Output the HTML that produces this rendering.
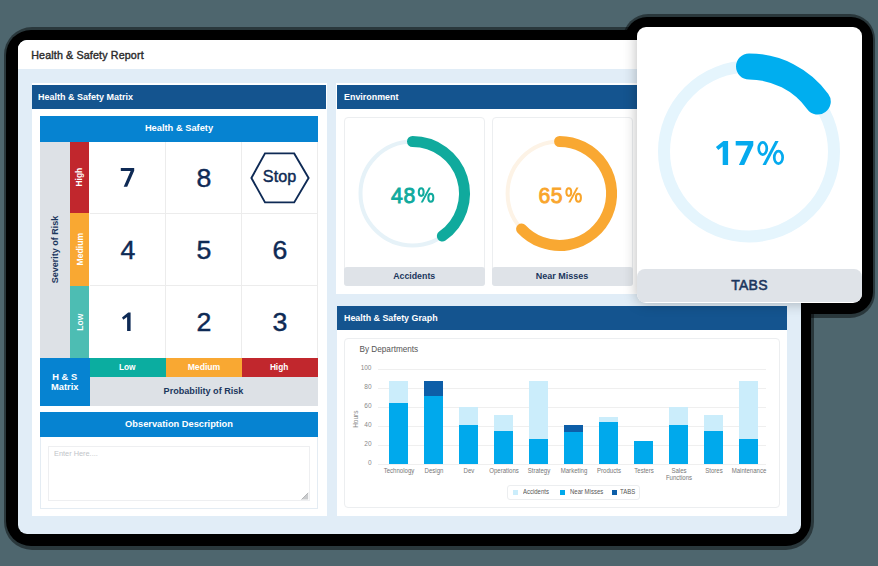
<!DOCTYPE html>
<html><head><meta charset="utf-8">
<style>
*{margin:0;padding:0;box-sizing:border-box}
html,body{width:878px;height:566px;overflow:hidden;background:#4e666e;font-family:"Liberation Sans",sans-serif}
.a{position:absolute}
.t{position:absolute;white-space:nowrap;line-height:1}
</style></head><body>
<div class="a" style="left:4px;top:27px;width:810px;height:523px;background:rgba(0,0,0,0.45);border-radius:28px"></div>
<div class="a" style="left:623px;top:14px;width:252px;height:304px;background:rgba(0,0,0,0.45);border-radius:25px"></div>
<div class="a" style="left:6px;top:30px;width:805px;height:516px;background:#000;border-radius:25px"></div>
<div class="a" style="left:625px;top:17px;width:248px;height:297px;background:#000;border-radius:22px"></div>
<div class="a" style="left:18px;top:40px;width:783px;height:493.5px;background:#e1edf7;border-radius:9px;overflow:hidden"><div class="a" style="left:0;top:0;width:783px;height:28.7px;background:#fff"></div></div>
<div class="t" style="left:31.20px;top:49.80px;font-size:10.7px;color:#2b2b2b;font-weight:normal;text-align:left;letter-spacing:0.15px;-webkit-text-stroke:0.4px #2b2b2b;">Health &amp; Safety Report</div>
<div class="a" style="left:31.5px;top:82.8px;width:295.3px;height:433.2px;background:#fff;"></div>
<div class="a" style="left:31.5px;top:85px;width:294.5px;height:23.8px;background:#14548f;"></div>
<div class="t" style="left:38.00px;top:92.80px;font-size:9.2px;color:#fff;font-weight:bold;text-align:left;transform:scaleX(0.98);transform-origin:left top;">Health &amp; Safety Matrix</div>
<div class="a" style="left:335.7px;top:82.8px;width:451.8px;height:211.6px;background:#fff;"></div>
<div class="a" style="left:337px;top:85px;width:450px;height:23.8px;background:#14548f;"></div>
<div class="t" style="left:344.40px;top:92.90px;font-size:9.2px;color:#fff;font-weight:bold;text-align:left;transform:scaleX(0.97);transform-origin:left top;">Environment</div>
<div class="a" style="left:337px;top:306.1px;width:450px;height:209.9px;background:#fff;"></div>
<div class="a" style="left:337px;top:306.1px;width:450px;height:23.6px;background:#14548f;"></div>
<div class="t" style="left:344.30px;top:313.70px;font-size:9.2px;color:#fff;font-weight:bold;text-align:left;transform:scaleX(0.965);transform-origin:left top;">Health &amp; Safety Graph</div>
<div class="a" style="left:40px;top:116px;width:278px;height:25.5px;background:#0683d1;"></div>
<div class="t" style="left:29.00px;top:123.69px;font-size:9.3px;color:#fff;font-weight:bold;text-align:center;width:300px;">Health &amp; Safety</div>
<div class="a" style="left:40px;top:141.5px;width:29.5px;height:216.5px;background:#dde1e6;"></div>
<div class="t" style="left:-45.10px;top:245.10px;width:200px;font-size:9px;color:#1b365d;font-weight:bold;text-align:center;transform:rotate(-90deg) scaleX(1.0);transform-origin:100px 4.40px;">Severity of Risk</div>
<div class="a" style="left:69.5px;top:141.5px;width:19.5px;height:71.8px;background:#c1272d;"></div>
<div class="a" style="left:69.5px;top:213.3px;width:19.5px;height:72.3px;background:#f9a832;"></div>
<div class="a" style="left:69.5px;top:285.6px;width:19.5px;height:72.4px;background:#4dbdb3;"></div>
<div class="t" style="left:-20.90px;top:173.35px;width:200px;font-size:8.5px;color:#fff;font-weight:bold;text-align:center;transform:rotate(-90deg) scaleX(1.0);transform-origin:100px 4.15px;">High</div>
<div class="t" style="left:-20.50px;top:245.40px;width:200px;font-size:8.6px;color:#fff;font-weight:bold;text-align:center;transform:rotate(-90deg) scaleX(1.0);transform-origin:100px 4.20px;">Medium</div>
<div class="t" style="left:-20.50px;top:317.85px;width:200px;font-size:8.5px;color:#fff;font-weight:bold;text-align:center;transform:rotate(-90deg) scaleX(1.0);transform-origin:100px 4.15px;">Low</div>
<div class="a" style="left:89.5px;top:141.5px;width:228px;height:216.5px;background:#fff;"></div>
<div class="a" style="left:165px;top:141.5px;width:1px;height:216.5px;background:#ececec;"></div>
<div class="a" style="left:241px;top:141.5px;width:1px;height:216.5px;background:#ececec;"></div>
<div class="a" style="left:317px;top:141.5px;width:1px;height:216.5px;background:#ececec;"></div>
<div class="a" style="left:89.5px;top:213px;width:228px;height:1px;background:#ececec;"></div>
<div class="a" style="left:89.5px;top:285px;width:228px;height:1px;background:#ececec;"></div>
<svg class="a" style="left:0;top:0" width="878" height="566"><g fill="#0e2a55"><path d="M128.2,312.6 L130.6,312.6 L130.6,331 L127.1,331 L127.1,316.9 L123.3,319.7 L122.0,317.4 Z"/><path d="M120.8,168.1 L134.2,168.1 L134.2,170.8 L127.2,186.7 L123.7,186.7 L130.6,171.0 L120.8,171.0 Z"/></g></svg>
<div class="t" style="left:53.80px;top:164.52px;font-size:26.7px;color:#0e2a55;font-weight:normal;text-align:center;width:300px;-webkit-text-stroke:0.45px #0e2a55;">8</div>
<div class="t" style="left:-22.20px;top:236.82px;font-size:26.7px;color:#0e2a55;font-weight:normal;text-align:center;width:300px;-webkit-text-stroke:0.45px #0e2a55;">4</div>
<div class="t" style="left:53.80px;top:236.82px;font-size:26.7px;color:#0e2a55;font-weight:normal;text-align:center;width:300px;-webkit-text-stroke:0.45px #0e2a55;">5</div>
<div class="t" style="left:129.80px;top:236.82px;font-size:26.7px;color:#0e2a55;font-weight:normal;text-align:center;width:300px;-webkit-text-stroke:0.45px #0e2a55;">6</div>
<div class="t" style="left:53.80px;top:309.02px;font-size:26.7px;color:#0e2a55;font-weight:normal;text-align:center;width:300px;-webkit-text-stroke:0.45px #0e2a55;">2</div>
<div class="t" style="left:129.80px;top:309.02px;font-size:26.7px;color:#0e2a55;font-weight:normal;text-align:center;width:300px;-webkit-text-stroke:0.45px #0e2a55;">3</div>
<svg class="a" style="left:241.5px;top:141.5px" width="76" height="72" viewBox="0 0 76 72"><polygon points="9.4,36 23,11.4 52.2,11.4 66.6,36 52.2,60.4 23,60.4" fill="none" stroke="#0e2a55" stroke-width="1.9" stroke-linejoin="miter"/></svg>
<div class="t" style="left:129.50px;top:167.89px;font-size:16.2px;color:#0e2a55;font-weight:normal;text-align:center;width:300px;-webkit-text-stroke:0.45px #0e2a55;">Stop</div>
<div class="a" style="left:40px;top:358px;width:49.5px;height:47.5px;background:#0683d1;"></div>
<div class="t" style="left:-85.30px;top:372.99px;font-size:9.3px;color:#fff;font-weight:bold;text-align:center;width:300px;">H &amp; S</div>
<div class="t" style="left:-85.30px;top:382.99px;font-size:9.3px;color:#fff;font-weight:bold;text-align:center;width:300px;">Matrix</div>
<div class="a" style="left:89.5px;top:358px;width:76px;height:19px;background:#0bada0;"></div>
<div class="a" style="left:165.5px;top:358px;width:76px;height:19px;background:#f9a832;"></div>
<div class="a" style="left:241.5px;top:358px;width:76px;height:19px;background:#c1272d;"></div>
<div class="t" style="left:-22.80px;top:363.02px;font-size:8.3px;color:#fff;font-weight:bold;text-align:center;width:300px;">Low</div>
<div class="t" style="left:53.80px;top:363.02px;font-size:8.3px;color:#fff;font-weight:bold;text-align:center;width:300px;transform:scaleX(1.04);transform-origin:center top;">Medium</div>
<div class="t" style="left:129.10px;top:363.02px;font-size:8.3px;color:#fff;font-weight:bold;text-align:center;width:300px;">High</div>
<div class="a" style="left:89.5px;top:377px;width:228px;height:28.5px;background:#dde1e6;"></div>
<div class="t" style="left:53.50px;top:386.71px;font-size:9.1px;color:#1b365d;font-weight:bold;text-align:center;width:300px;">Probability of Risk</div>
<div class="a" style="left:40px;top:412.3px;width:278px;height:25px;background:#0683d1;"></div>
<div class="t" style="left:28.60px;top:419.50px;font-size:9.2px;color:#fff;font-weight:bold;text-align:center;width:300px;transform:scaleX(1.01);transform-origin:center top;">Observation Description</div>
<div class="a" style="left:40px;top:437px;width:278px;height:72px;background:transparent;border:1px solid #e4ecf3;border-top:none"></div>
<div class="a" style="left:48.3px;top:445.7px;width:261.7px;height:55.3px;background:#fff;border:1px solid #eeeff1"></div>
<div class="t" style="left:54.00px;top:449.61px;font-size:7.6px;color:#c0c4c8;font-weight:normal;text-align:left;transform:scaleX(0.97);transform-origin:left top;">Enter Here....</div>
<svg class="a" style="left:300px;top:492px" width="9" height="9" viewBox="0 0 9 9"><path d="M8.2,0.8 L8.2,7.5 L1.5,7.5 Z" fill="#c9cbcd"/><path d="M8.2,0.8 L1.5,7.5" stroke="#a9abad" stroke-width="0.8"/></svg>
<div class="a" style="left:344px;top:116.7px;width:141px;height:169.5px;background:#fff;border:1px solid #eceef0;border-radius:4px"></div>
<div class="a" style="left:344px;top:266.7px;width:141px;height:19.3px;background:#dfe3e8;border-radius:3px"></div>
<div class="t" style="left:264.20px;top:271.95px;font-size:8.8px;color:#1b365d;font-weight:bold;text-align:center;width:300px;">Accidents</div>
<div class="a" style="left:491.7px;top:116.7px;width:141px;height:169.5px;background:#fff;border:1px solid #eceef0;border-radius:4px"></div>
<div class="a" style="left:491.7px;top:266.7px;width:141px;height:19.3px;background:#dfe3e8;border-radius:3px"></div>
<div class="t" style="left:411.60px;top:271.95px;font-size:8.8px;color:#1b365d;font-weight:bold;text-align:center;width:300px;transform:scaleX(1.02);transform-origin:center top;">Near Misses</div>
<svg class="a" style="left:0;top:0" width="878" height="566">
<circle cx="412.5" cy="193.5" r="52" fill="none" stroke="#e6f2f8" stroke-width="4"/>
<path d="M412.50,141.50 A52,52 0 0 1 442.33,236.10" fill="none" stroke="#10aa9d" stroke-width="11" stroke-linecap="round"/>
<circle cx="559.6" cy="193.5" r="52" fill="none" stroke="#fdf3e6" stroke-width="4"/>
<path d="M559.60,141.50 A52,52 0 1 1 521.57,228.96" fill="none" stroke="#f9a832" stroke-width="11" stroke-linecap="round"/>
</svg>
<div class="t" style="left:391.00px;top:184.73px;font-size:21.2px;color:#10aa9d;font-weight:normal;text-align:left;letter-spacing:0.6px;-webkit-text-stroke:0.85px #10aa9d;">48</div>
<div class="t" style="left:538.40px;top:184.73px;font-size:21.2px;color:#f9a52b;font-weight:normal;text-align:left;letter-spacing:0.6px;-webkit-text-stroke:0.85px #f9a52b;">65</div>
<svg class="a" style="left:0;top:0" width="878" height="566"><g transform="translate(417.5,187.4) scale(0.632) translate(-757.4,-141.1)" fill="#10aa9d" stroke="#10aa9d"><path d="M775.2,141.1 L778.6,141.1 L765.9,165 L762.5,165 Z" stroke="none"/><ellipse cx="763.25" cy="148.45" rx="3.85" ry="6.1" fill="none" stroke-width="3.2"/><ellipse cx="778.45" cy="157.45" rx="4.0" ry="6.25" fill="none" stroke-width="3.2"/></g><g transform="translate(565.1,187.4) scale(0.632) translate(-757.4,-141.1)" fill="#f9a52b" stroke="#f9a52b"><path d="M775.2,141.1 L778.6,141.1 L765.9,165 L762.5,165 Z" stroke="none"/><ellipse cx="763.25" cy="148.45" rx="3.85" ry="6.1" fill="none" stroke-width="3.2"/><ellipse cx="778.45" cy="157.45" rx="4.0" ry="6.25" fill="none" stroke-width="3.2"/></g></svg>
<div class="a" style="left:344px;top:338.3px;width:436px;height:169.7px;background:transparent;border:1px solid #eceef0;border-radius:4px"></div>
<div class="t" style="left:359.50px;top:345.53px;font-size:8.2px;color:#555;font-weight:normal;text-align:left;">By Departments</div>
<div class="a" style="left:377.6px;top:463.5px;width:388px;height:1px;background:#efefef;"></div>
<div class="t" style="left:71.50px;top:459.95px;font-size:6.5px;color:#8a8a8a;font-weight:normal;text-align:right;width:300px;">0</div>
<div class="a" style="left:377.6px;top:444.6px;width:388px;height:1px;background:#efefef;"></div>
<div class="t" style="left:71.50px;top:441.05px;font-size:6.5px;color:#8a8a8a;font-weight:normal;text-align:right;width:300px;">20</div>
<div class="a" style="left:377.6px;top:425.7px;width:388px;height:1px;background:#efefef;"></div>
<div class="t" style="left:71.50px;top:422.15px;font-size:6.5px;color:#8a8a8a;font-weight:normal;text-align:right;width:300px;">40</div>
<div class="a" style="left:377.6px;top:406.8px;width:388px;height:1px;background:#efefef;"></div>
<div class="t" style="left:71.50px;top:403.25px;font-size:6.5px;color:#8a8a8a;font-weight:normal;text-align:right;width:300px;">60</div>
<div class="a" style="left:377.6px;top:387.9px;width:388px;height:1px;background:#efefef;"></div>
<div class="t" style="left:71.50px;top:384.35px;font-size:6.5px;color:#8a8a8a;font-weight:normal;text-align:right;width:300px;">80</div>
<div class="a" style="left:377.6px;top:369.0px;width:388px;height:1px;background:#efefef;"></div>
<div class="t" style="left:71.50px;top:365.45px;font-size:6.5px;color:#8a8a8a;font-weight:normal;text-align:right;width:300px;">100</div>
<div class="t" style="left:255.60px;top:415.82px;width:200px;font-size:6.5px;color:#888;font-weight:normal;text-align:center;transform:rotate(-90deg) scaleX(1.0);transform-origin:100px 3.18px;">Hours</div>
<div class="a" style="left:389.0px;top:402.9px;width:19px;height:61.1px;background:#00a9ec;"></div>
<div class="a" style="left:389.0px;top:380.9px;width:19px;height:22.0px;background:#cbedfb;"></div>
<div class="t" style="left:368.50px;top:467px;width:60px;text-align:center;font-size:6.5px;line-height:7px;color:#777;transform:scaleX(0.93)">Technology</div>
<div class="a" style="left:424.03px;top:395.9px;width:19px;height:68.1px;background:#00a9ec;"></div>
<div class="a" style="left:424.03px;top:380.9px;width:19px;height:15.0px;background:#0d5ea8;"></div>
<div class="t" style="left:403.53px;top:467px;width:60px;text-align:center;font-size:6.5px;line-height:7px;color:#777;transform:scaleX(0.93)">Design</div>
<div class="a" style="left:459.06px;top:425.4px;width:19px;height:38.6px;background:#00a9ec;"></div>
<div class="a" style="left:459.06px;top:407px;width:19px;height:18.4px;background:#cbedfb;"></div>
<div class="t" style="left:438.56px;top:467px;width:60px;text-align:center;font-size:6.5px;line-height:7px;color:#777;transform:scaleX(0.93)">Dev</div>
<div class="a" style="left:494.09px;top:431.2px;width:19px;height:32.8px;background:#00a9ec;"></div>
<div class="a" style="left:494.09px;top:414.6px;width:19px;height:16.6px;background:#cbedfb;"></div>
<div class="t" style="left:473.59px;top:467px;width:60px;text-align:center;font-size:6.5px;line-height:7px;color:#777;transform:scaleX(0.93)">Operations</div>
<div class="a" style="left:529.12px;top:439.4px;width:19px;height:24.6px;background:#00a9ec;"></div>
<div class="a" style="left:529.12px;top:380.9px;width:19px;height:58.5px;background:#cbedfb;"></div>
<div class="t" style="left:508.62px;top:467px;width:60px;text-align:center;font-size:6.5px;line-height:7px;color:#777;transform:scaleX(0.93)">Strategy</div>
<div class="a" style="left:564.15px;top:431.8px;width:19px;height:32.2px;background:#00a9ec;"></div>
<div class="a" style="left:564.15px;top:425.4px;width:19px;height:6.4px;background:#0d5ea8;"></div>
<div class="t" style="left:543.65px;top:467px;width:60px;text-align:center;font-size:6.5px;line-height:7px;color:#777;transform:scaleX(0.93)">Marketing</div>
<div class="a" style="left:599.18px;top:421.5px;width:19px;height:42.5px;background:#00a9ec;"></div>
<div class="a" style="left:599.18px;top:416.5px;width:19px;height:5.0px;background:#cbedfb;"></div>
<div class="t" style="left:578.68px;top:467px;width:60px;text-align:center;font-size:6.5px;line-height:7px;color:#777;transform:scaleX(0.93)">Products</div>
<div class="a" style="left:634.21px;top:441.3px;width:19px;height:22.7px;background:#00a9ec;"></div>
<div class="t" style="left:613.71px;top:467px;width:60px;text-align:center;font-size:6.5px;line-height:7px;color:#777;transform:scaleX(0.93)">Testers</div>
<div class="a" style="left:669.24px;top:425.4px;width:19px;height:38.6px;background:#00a9ec;"></div>
<div class="a" style="left:669.24px;top:406.9px;width:19px;height:18.5px;background:#cbedfb;"></div>
<div class="t" style="left:648.74px;top:467px;width:60px;text-align:center;font-size:6.5px;line-height:7px;color:#777;transform:scaleX(0.93)">Sales<br>Functions</div>
<div class="a" style="left:704.27px;top:431.1px;width:19px;height:32.9px;background:#00a9ec;"></div>
<div class="a" style="left:704.27px;top:414.6px;width:19px;height:16.5px;background:#cbedfb;"></div>
<div class="t" style="left:683.77px;top:467px;width:60px;text-align:center;font-size:6.5px;line-height:7px;color:#777;transform:scaleX(0.93)">Stores</div>
<div class="a" style="left:739.3px;top:439.3px;width:19px;height:24.7px;background:#00a9ec;"></div>
<div class="a" style="left:739.3px;top:380.9px;width:19px;height:58.4px;background:#cbedfb;"></div>
<div class="t" style="left:718.80px;top:467px;width:60px;text-align:center;font-size:6.5px;line-height:7px;color:#777;transform:scaleX(0.93)">Maintenance</div>
<div class="a" style="left:506.5px;top:485px;width:133.5px;height:15px;background:transparent;border:1px solid #eceef0;border-radius:3px"></div>
<div class="a" style="left:513.2px;top:489.8px;width:5px;height:5px;background:#cbedfb;"></div>
<div class="t" style="left:522.50px;top:489.35px;font-size:6.5px;color:#555;font-weight:normal;text-align:left;transform:scaleX(0.92);transform-origin:left top;">Accidents</div>
<div class="a" style="left:560px;top:489.8px;width:5px;height:5px;background:#00a9ec;"></div>
<div class="t" style="left:569.80px;top:489.35px;font-size:6.5px;color:#555;font-weight:normal;text-align:left;transform:scaleX(0.92);transform-origin:left top;">Near Misses</div>
<div class="a" style="left:612.4px;top:489.8px;width:5px;height:5px;background:#0d5ea8;"></div>
<div class="t" style="left:620.10px;top:489.35px;font-size:6.5px;color:#555;font-weight:normal;text-align:left;transform:scaleX(0.92);transform-origin:left top;">TABS</div>
<div class="a" style="left:637px;top:27px;width:225px;height:275.5px;background:#fff;border-radius:9px;box-shadow:0 0 14px rgba(0,0,0,0.28);overflow:hidden"><div class="a" style="left:0;top:242.2px;width:225px;height:33.3px;background:#dfe3e8;border-radius:8px 8px 0 0"></div></div>
<div class="t" style="left:599.50px;top:278.47px;font-size:14px;color:#1b365d;font-weight:normal;text-align:center;width:300px;letter-spacing:0.3px;-webkit-text-stroke:0.55px #1b365d;">TABS</div>
<svg class="a" style="left:0;top:0" width="878" height="566">
<circle cx="749" cy="151.5" r="85" fill="none" stroke="#e5f5fd" stroke-width="12"/>
<path d="M749.00,66.50 A85,85 0 0 1 817.77,101.54" fill="none" stroke="#00aeef" stroke-width="26" stroke-linecap="round"/>
</svg>
<svg class="a" style="left:0;top:0" width="878" height="566"><g fill="#05aaee">
<path d="M723.4,141 L728.1,141 L728.1,164.9 L722.7,164.9 L722.7,146.4 L718.3,150 L715.9,146.9 Z"/>
<path d="M735.7,141 L753.3,141 L753.3,145.3 L744.2,164.9 L738.9,164.9 L747.9,145.5 L735.7,145.5 Z"/>
<path d="M775.2,141.1 L778.6,141.1 L765.9,165 L762.5,165 Z"/>
</g><g fill="none" stroke="#05aaee">
<ellipse cx="762.75" cy="148.45" rx="4.05" ry="6.1" stroke-width="2.7"/>
<ellipse cx="778.45" cy="157.45" rx="4.2" ry="6.25" stroke-width="2.7"/>
</g></svg>
</body></html>
